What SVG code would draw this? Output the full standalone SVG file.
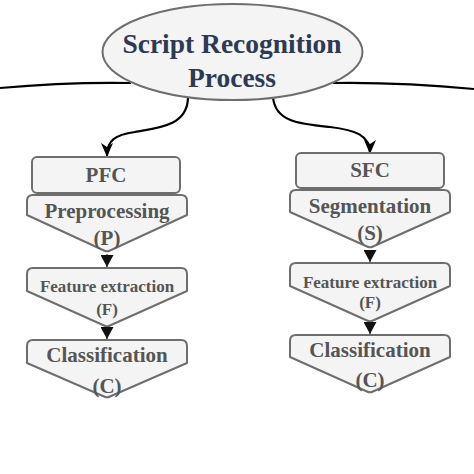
<svg xmlns="http://www.w3.org/2000/svg" width="474" height="474" viewBox="0 0 474 474">
<defs>
<style>
.shape{fill:#f4f4f4;stroke:#6e6e6e;stroke-width:2;stroke-linejoin:round}
.lbl{font-family:"Liberation Serif","Times New Roman",serif;font-weight:bold;fill:#555;text-anchor:middle}
.title{font-family:"Liberation Serif","Times New Roman",serif;font-weight:bold;fill:#2d3a54;text-anchor:middle;font-size:27.5px}
.conn{fill:none;stroke:#000;stroke-width:2.2}
.step{fill:none;stroke:#000;stroke-width:1}
</style>
<marker id="arr" markerUnits="userSpaceOnUse" markerWidth="14" markerHeight="12" refX="13" refY="6" orient="auto">
<path d="M0,0 L14,6 L0,12 L4,6 z" fill="#000"/>
</marker>
<marker id="tri" markerUnits="userSpaceOnUse" markerWidth="12" markerHeight="13" refX="12" refY="6.5" orient="auto">
<path d="M0,0 L12,6.5 L0,13 z" fill="#111"/>
</marker>
</defs>
<rect width="474" height="474" fill="#fff"/>
<g id="connectors-top">
<path class="conn" d="M0,88 Q65,82 131,83"/>
<path class="conn" d="M333,83 Q400,82 474,89"/>
<path class="conn" d="M188,97 C188,125 160,128 135,132 C115,135 107,140 107,156" marker-end="url(#arr)"/>
<path class="conn" d="M273,97 C275,122 300,124 330,127 C355,130 370,135 370,153" marker-end="url(#arr)"/>
</g>
<g id="root">
<ellipse class="shape" cx="232.5" cy="52" rx="130" ry="48"/>
<text class="title" x="232" y="53">Script Recognition</text>
<text class="title" x="232" y="87">Process</text>
</g>
<g id="pfc">
<rect class="shape" x="32" y="157" width="148" height="36" rx="5"/>
<text class="lbl" x="106" y="182" font-size="21">PFC</text>
</g>
<g id="preprocessing">
<path class="shape" d="M33,195 H181 Q187,195 187,201 V215 L110,250.5 Q107,252 104,250.5 L27,215 V201 Q27,195 33,195 Z"/>
<text class="lbl" x="107" y="218" font-size="21">Preprocessing</text>
<text class="lbl" x="107" y="245" font-size="21">(P)</text>
</g>
<g id="feature-left">
<path class="shape" d="M33,268 H181 Q187,268 187,274 V291 L110,325.5 Q107,327 104,325.5 L27,291 V274 Q27,268 33,268 Z"/>
<text class="lbl" x="107" y="292" font-size="17">Feature extraction</text>
<text class="lbl" x="107" y="315" font-size="17">(F)</text>
</g>
<g id="classification-left">
<path class="shape" d="M33,340 H181 Q187,340 187,346 V363 L110,396.5 Q107,398 104,396.5 L27,363 V346 Q27,340 33,340 Z"/>
<text class="lbl" x="107" y="362" font-size="21">Classification</text>
<text class="lbl" x="107" y="393" font-size="21">(C)</text>
</g>
<g id="sfc">
<rect class="shape" x="296" y="153" width="148" height="35" rx="5"/>
<text class="lbl" x="370" y="177" font-size="21">SFC</text>
</g>
<g id="segmentation">
<path class="shape" d="M296,190 H444 Q450,190 450,196 V212 L373,246.5 Q370,248 367,246.5 L290,212 V196 Q290,190 296,190 Z"/>
<text class="lbl" x="370" y="213" font-size="21">Segmentation</text>
<text class="lbl" x="370" y="240" font-size="21">(S)</text>
</g>
<g id="feature-right">
<path class="shape" d="M296,263 H444 Q450,263 450,269 V286 L373,320.5 Q370,322 367,320.5 L290,286 V269 Q290,263 296,263 Z"/>
<text class="lbl" x="370" y="288" font-size="17">Feature extraction</text>
<text class="lbl" x="370" y="308" font-size="17">(F)</text>
</g>
<g id="classification-right">
<path class="shape" d="M296,335 H444 Q450,335 450,341 V357 L373,391.5 Q370,393 367,391.5 L290,357 V341 Q290,335 296,335 Z"/>
<text class="lbl" x="370" y="357" font-size="21">Classification</text>
<text class="lbl" x="370" y="387" font-size="21">(C)</text>
</g>
<g id="connectors">
<line class="step" x1="107" y1="254" x2="107" y2="267" marker-end="url(#tri)"/>
<line class="step" x1="107" y1="327" x2="107" y2="339" marker-end="url(#tri)"/>
<line class="step" x1="370" y1="250" x2="370" y2="262" marker-end="url(#tri)"/>
<line class="step" x1="370" y1="322" x2="370" y2="334" marker-end="url(#tri)"/>
</g>
</svg>
